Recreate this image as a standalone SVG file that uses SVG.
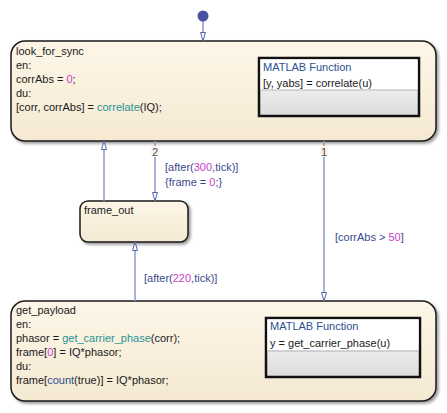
<svg xmlns="http://www.w3.org/2000/svg" width="447" height="413" viewBox="0 0 447 413">
<defs>
<linearGradient id="stateFill" x1="0" y1="0" x2="0" y2="1">
<stop offset="0" stop-color="#fdf6e8"/>
<stop offset="1" stop-color="#f5e9d2"/>
</linearGradient>
<linearGradient id="fnFill" x1="0" y1="0" x2="0" y2="1">
<stop offset="0" stop-color="#ffffff"/>
<stop offset="1" stop-color="#dcdcdc"/>
</linearGradient>
<filter id="shadow" x="-5%" y="-5%" width="110%" height="120%">
<feGaussianBlur in="SourceAlpha" stdDeviation="1.5"/>
<feOffset dx="2" dy="2" result="b"/>
<feComponentTransfer><feFuncA type="linear" slope="0.4"/></feComponentTransfer>
<feMerge><feMergeNode/><feMergeNode in="SourceGraphic"/></feMerge>
</filter>
<marker id="arr" viewBox="0 0 10 6" refX="9.5" refY="3" markerWidth="10" markerHeight="6" markerUnits="userSpaceOnUse" orient="auto">
<path d="M1,0.5 L9.5,3 L1,5.5 Z" fill="#ffffff" stroke="#5560a8" stroke-width="1"/>
</marker>
</defs>
<style>
.state{fill:url(#stateFill);stroke:#1a1a1a;stroke-width:1.5;filter:url(#shadow)}
.fn{fill:url(#fnFill);stroke:#111;stroke-width:2.5}
.t{font-family:"Liberation Sans",Arial,sans-serif;font-size:11px;fill:#1a1a1a}
.lbl{font-family:"Liberation Sans",Arial,sans-serif;font-size:11px;fill:#3c4a8c}
.ft{font-family:"Liberation Sans",Arial,sans-serif;font-size:11px;fill:#2b4f8f}
.num{fill:#c840c8}
.fun{fill:#1f9494}
.kw{fill:#2b4f8f}
.conn{stroke:#8e98c8;stroke-width:1.5;fill:none}
.pri{fill:#fdf3df}
</style>
<g id="look_for_sync">
<rect class="state" x="11" y="41" width="425" height="100" rx="14"/>
<text class="t" x="16" y="55">look_for_sync</text>
<text class="t" x="16" y="69">en:</text>
<text class="t" x="16" y="83">corrAbs = <tspan class="num">0</tspan>;</text>
<text class="t" x="16" y="97">du:</text>
<text class="t" x="16" y="111">[corr, corrAbs] = <tspan class="fun">correlate</tspan>(IQ);</text>
</g>
<g id="fn_correlate">
<rect class="fn" x="259" y="58" width="160" height="58"/>
<rect x="260.5" y="59.5" width="157" height="31" fill="#ffffff"/>
<line x1="260" y1="90" x2="418" y2="90" stroke="#b0b0b0" stroke-width="1"/>
<text class="ft" x="263" y="71">MATLAB Function</text>
<text class="t" x="263" y="87">[y, yabs] = correlate(u)</text>
</g>
<g id="frame_out">
<rect class="state" x="80" y="201" width="108" height="41" rx="8"/>
<text class="t" x="84" y="214">frame_out</text>
</g>
<g id="get_payload">
<rect class="state" x="11" y="301" width="425" height="100" rx="14"/>
<text class="t" x="16" y="314">get_payload</text>
<text class="t" x="16" y="328">en:</text>
<text class="t" x="16" y="342">phasor = <tspan class="fun">get_carrier_phase</tspan>(corr);</text>
<text class="t" x="16" y="356">frame[<tspan class="num">0</tspan>] = IQ*phasor;</text>
<text class="t" x="16" y="370">du:</text>
<text class="t" x="16" y="384">frame[<tspan class="kw">count</tspan>(true)] = IQ*phasor;</text>
</g>
<g id="fn_get_carrier_phase">
<rect class="fn" x="266" y="318" width="154" height="59"/>
<rect x="267.5" y="319.5" width="151" height="31" fill="#ffffff"/>
<line x1="267" y1="351" x2="419" y2="351" stroke="#b0b0b0" stroke-width="1"/>
<text class="ft" x="270" y="330">MATLAB Function</text>
<text class="t" x="270" y="347">y = get_carrier_phase(u)</text>
</g>
<g id="connectors">
<circle cx="203" cy="16" r="5.5" fill="#4a52a0"/>
<line class="conn" x1="203" y1="21" x2="203" y2="41" marker-end="url(#arr)" style="stroke:#5560a8;stroke-width:1"/>
<line class="conn" x1="104" y1="201" x2="104" y2="141" marker-end="url(#arr)"/>
<line class="conn" x1="155" y1="141" x2="155" y2="201" marker-end="url(#arr)"/>
<line class="conn" x1="135" y1="301" x2="135" y2="242" marker-end="url(#arr)"/>
<line class="conn" x1="324" y1="141" x2="324" y2="301" marker-end="url(#arr)"/>
<rect class="pri" x="151" y="146" width="8" height="11" rx="3"/>
<text class="lbl" x="155" y="156" text-anchor="middle">2</text>
<text class="lbl" x="165" y="171">[after(<tspan class="num">300</tspan>,tick)]</text>
<text class="lbl" x="165" y="186">{frame = <tspan class="num">0</tspan>;}</text>
<rect class="pri" x="320" y="146" width="8" height="11" rx="3"/>
<text class="lbl" x="324" y="156" text-anchor="middle">1</text>
<text class="lbl" x="335" y="241">[corrAbs &gt; <tspan class="num">50</tspan>]</text>
<text class="lbl" x="144" y="282">[after(<tspan class="num">220</tspan>,tick)]</text>
</g>
</svg>
